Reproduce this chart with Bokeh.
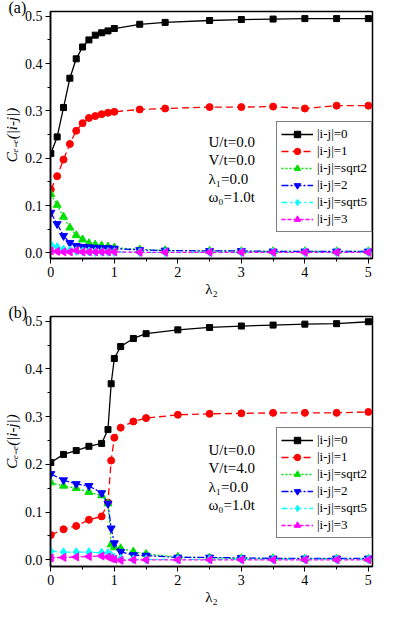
import math
from bokeh.plotting import figure
from bokeh.layouts import column
from bokeh.models import (Range1d, SingleIntervalTicker, PrintfTickFormatter,
                          Legend, LegendItem, Label, Title)
from bokeh.embed import file_html
from bokeh.resources import INLINE

# ---------------- data: panel (a) ----------------
xa = [0, 0.1, 0.2, 0.3, 0.4, 0.5, 0.6, 0.7, 0.8, 0.9, 1.0, 1.4, 1.8, 2.5, 3.0, 3.5, 4.0, 4.5, 5.0]
a_d0 = [0.210, 0.245, 0.307, 0.369, 0.410, 0.435, 0.450, 0.460, 0.465, 0.469, 0.474,
        0.483, 0.487, 0.491, 0.493, 0.494, 0.495, 0.495, 0.495]
a_d1 = [0.134, 0.162, 0.197, 0.230, 0.258, 0.274, 0.285, 0.289, 0.293, 0.296, 0.298,
        0.303, 0.305, 0.308, 0.308, 0.309, 0.305, 0.311, 0.311]
a_ds2 = [0.124, 0.101, 0.076, 0.053, 0.037, 0.028, 0.020, 0.017, 0.015, 0.013, 0.011,
         0.007, 0.005, 0.004, 0.003, 0.003, 0.003, 0.003, 0.003]
a_d2 = [0.085, 0.061, 0.036, 0.021, 0.015, 0.013, 0.012, 0.011, 0.010, 0.010, 0.009,
        0.006, 0.005, 0.004, 0.004, 0.003, 0.003, 0.003, 0.003]
a_ds5 = [0.017, 0.012, 0.007, 0.005, 0.004, 0.003, 0.003, 0.002, 0.002, 0.002, 0.002,
         0.001, 0.001, 0.001, 0.001, 0.001, 0.001, 0.001, 0.001]
a_d3 = [0.004, 0.003, 0.002, 0.002, 0.005, 0.002, 0.002, 0.002, 0.002, 0.002, 0.002,
        0.001, 0.001, 0.001, 0.001, 0.001, 0.001, 0.001, 0.001]

# ---------------- data: panel (b) ----------------
xb = [0, 0.2, 0.4, 0.6, 0.8, 0.9, 0.95, 1.0, 1.1, 1.3, 1.5, 2.0, 2.5, 3.0, 3.5, 4.0, 4.5, 5.0]
b_d0 = [0.204, 0.221, 0.229, 0.238, 0.244, 0.273, 0.369, 0.422, 0.447, 0.464, 0.474,
        0.482, 0.487, 0.490, 0.492, 0.494, 0.495, 0.499]
b_d1 = [0.052, 0.064, 0.071, 0.084, 0.091, 0.120, 0.208, 0.256, 0.277, 0.290, 0.297,
        0.304, 0.306, 0.307, 0.308, 0.308, 0.308, 0.310]
b_ds2 = [0.162, 0.155, 0.150, 0.142, 0.135, 0.118, 0.032, 0.026, 0.024, 0.017, 0.012,
         0.006, 0.004, 0.003, 0.003, 0.002, 0.002, 0.002]
b_d2 = [0.180, 0.167, 0.159, 0.155, 0.140, 0.118, 0.066, 0.035, 0.017, 0.010, 0.009,
        0.005, 0.005, 0.004, 0.003, 0.003, 0.003, 0.003]
b_ds5 = [0.018, 0.016, 0.016, 0.016, 0.015, 0.014, 0.009, 0.004, 0.002, 0.001, 0.001,
         0.001, 0.001, 0.001, 0.001, 0.001, 0.001, 0.001]
b_d3 = [0.004, 0.005, 0.006, 0.007, 0.008, 0.006, 0.003, 0.001, -0.001, 0.000, 0.000,
        0.000, 0.000, 0.000, 0.000, 0.000, 0.000, 0.000]

series_labels = ["|i-j|=0", "|i-j|=1", "|i-j|=sqrt2", "|i-j|=2", "|i-j|=sqrt5", "|i-j|=3"]
params_a = ["U/t=0.0", "V/t=0.0", "\u03bb\u2081=0.0", "\u03c9\u2080=1.0t"]
params_b = ["U/t=0.0", "V/t=4.0", "\u03bb\u2081=0.0", "\u03c9\u2080=1.0t"]
x_ticks_step = 1
y_ticks_step = 0.1

SERIF = "Liberation Serif"
styles = [
    dict(color="#000000", dash="solid", marker="square", size=6, angle=0),
    dict(color="#ff0000", dash="7 4", marker="circle", size=7, angle=0),
    dict(color="#00e000", dash="2 2", marker="triangle", size=8, angle=0),
    dict(color="#0000ff", dash="7 2 2 2", marker="inverted_triangle", size=8, angle=0),
    dict(color="#00ffff", dash="6 3 2 3", marker="diamond", size=9, angle=0),
    dict(color="#ff00ff", dash="4 2", marker="triangle", size=8, angle=math.pi / 2),
]


def make_panel(xs, ys_list, params, tag, height, btop, bbottom, ymin, leg_y, standoff):
    p = figure(width=377, height=height, output_backend="svg", toolbar_location=None,
               x_range=Range1d(-0.005, 5.065), y_range=Range1d(ymin, 0.51),
               min_border_left=40, min_border_right=5,
               min_border_top=btop, min_border_bottom=bbottom)
    p.xgrid.visible = False
    p.ygrid.visible = False
    p.outline_line_color = "black"
    p.outline_line_width = 1.5
    p.outline_line_alpha = 1.0
    p.background_fill_color = "white"

    p.xaxis.ticker = SingleIntervalTicker(interval=x_ticks_step, num_minor_ticks=2)
    p.yaxis.ticker = SingleIntervalTicker(interval=y_ticks_step, num_minor_ticks=2)
    p.xaxis.formatter = PrintfTickFormatter(format="%d")
    p.yaxis.formatter = PrintfTickFormatter(format="%.1f")
    for ax in (p.xaxis, p.yaxis):
        ax.axis_line_width = 1.5
        ax.axis_line_color = "black"
        ax.major_tick_out = 5
        ax.major_tick_in = 0
        ax.minor_tick_out = 3
        ax.minor_tick_in = 0
        ax.major_tick_line_color = "black"
        ax.minor_tick_line_color = "black"
        ax.major_label_text_font = SERIF
        ax.major_label_text_font_size = "14px"
        ax.major_label_text_color = "black"
        ax.major_label_standoff = 3
        ax.axis_label_text_font = SERIF
        ax.axis_label_text_color = "black"
        ax.axis_label_standoff = 1
    p.xaxis.axis_label = "\u03bb\u2082"
    p.xaxis.axis_label_text_font_size = "15px"
    p.xaxis.axis_label_text_font_style = "normal"
    p.yaxis.axis_label = "C\u2091\u208b\u2091(|i-j|)"
    p.yaxis.axis_label_text_font_size = "15px"
    p.yaxis.axis_label_text_font_style = "italic"
    p.yaxis.axis_label_standoff = 2

    items = []
    for ys, st, lab in zip(ys_list, styles, series_labels):
        ln = p.line(xs, ys, line_color=st["color"], line_width=1.3, line_dash=st["dash"])
        sc = p.scatter(xs, ys, marker=st["marker"], size=st["size"], angle=st["angle"],
                       fill_color=st["color"], line_color=st["color"])
        items.append(LegendItem(label=lab, renderers=[ln, sc]))

    leg = Legend(items=items, location=(226, leg_y))
    leg.label_text_font = SERIF
    leg.label_text_font_size = "13px"
    leg.label_text_color = "black"
    leg.glyph_width = 32
    leg.glyph_height = 16
    leg.label_height = 16
    leg.label_standoff = 4
    leg.spacing = 1
    leg.padding = 4
    leg.margin = 0
    leg.border_line_color = "black"
    leg.border_line_width = 1
    leg.background_fill_color = "white"
    leg.background_fill_alpha = 1.0
    p.add_layout(leg, "center")

    for i, t in enumerate(params):
        p.add_layout(Label(x=158, y=117 - i * 18.5, x_units="screen", y_units="screen",
                           text=t, text_font=SERIF, text_font_size="15px",
                           text_color="black", text_baseline="middle"))
    p.add_layout(Title(text=tag, align="left", offset=-42, standoff=standoff,
                       text_font=SERIF, text_font_size="16px",
                       text_font_style="normal", text_color="black"), "above")
    return p


p1 = make_panel(xa, [a_d0, a_d1, a_ds2, a_d2, a_ds5, a_d3], params_a, "(a)",
                300, 8, 42, -0.012, 26, -8)
p2 = make_panel(xb, [b_d0, b_d1, b_ds2, b_d2, b_ds5, b_d3], params_b, "(b)",
                308, 16, 42, -0.014, 28, -8)

layout = column(p1, p2, spacing=0)
open("out.html", "w").write(file_html(layout, INLINE))
